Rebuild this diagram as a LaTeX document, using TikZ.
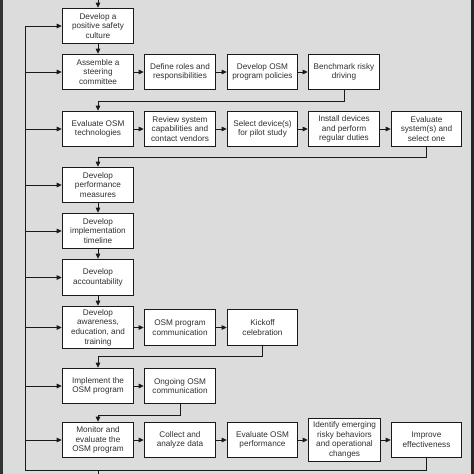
\documentclass[tikz,border=0pt]{standalone}
\usepackage{fontspec}
\setmainfont{Liberation Sans}
\usetikzlibrary{arrows.meta}
\definecolor{bgc}{HTML}{DCDCDC}
\definecolor{txtc}{HTML}{303030}
\definecolor{linec}{HTML}{1A1A1A}
\tikzset{
  box/.style={draw=linec, fill=white, line width=1.6pt, minimum width=71pt, minimum height=35pt,
    inner sep=1pt, align=center, text=txtc, font=\fontsize{8.2}{9.7}\selectfont},
  arr/.style={draw=linec, line width=0.9pt, -{Triangle[length=5pt,width=4.5pt]}},
  ln/.style={draw=linec, line width=0.9pt},
}
\begin{document}
\begin{tikzpicture}[x=1pt,y=-1pt]
\useasboundingbox (0,0) rectangle (474,474);
\fill[bgc] (0,0) rectangle (474,474);
\fill[black!80] (0,0) rectangle (2.5,474);
\fill[black!85] (470.5,0) rectangle (474,474);
\draw[black!15, line width=0.6pt] (466,0) -- (466,474);
% main column
\node[box] (safety) at (98,26) {Develop a\\positive safety\\culture};
\node[box] (assemble) at (98,72) {Assemble a\\steering\\committee};
\node[box] (evaltech) at (98,129) {Evaluate OSM\\technologies};
\node[box] (perf) at (98,185) {Develop\\performance\\measures};
\node[box] (timeline) at (98,231) {Develop\\implementation\\timeline};
\node[box, minimum height=36pt] (account) at (98,277.5) {Develop\\accountability};
\node[box, minimum height=42pt] (aware) at (98,327.5) {Develop\\awareness,\\education, and\\training};
\node[box] (implement) at (98,386) {Implement the\\OSM program};
\node[box] (monitor) at (98,440) {Monitor and\\evaluate the\\OSM program};
% row 1
\node[box] (roles) at (180,72) {Define roles and\\responsibilities};
\node[box, minimum width=70pt] (policies) at (262.5,72) {Develop OSM\\program policies};
\node[box] (bench) at (344,72) {Benchmark risky\\driving};
% row tech
\node[box] (review) at (180,129) {Review system\\capabilities and\\contact vendors};
\node[box, minimum width=70pt] (select) at (262.5,129) {Select device(s)\\for pilot study};
\node[box] (install) at (344,129) {Install devices\\and perform\\regular duties};
\node[box, minimum width=70pt] (evalsys) at (426.5,129) {Evaluate\\system(s) and\\select one};
% row awareness
\node[box, minimum height=36pt] (osmcomm) at (180,327.5) {OSM program\\communication};
\node[box, minimum width=70pt, minimum height=36pt] (kickoff) at (262.5,327.5) {Kickoff\\celebration};
% row implement
\node[box] (ongoing) at (180,386) {Ongoing OSM\\communication};
% row monitor
\node[box] (collect) at (180,440) {Collect and\\analyze data};
\node[box, minimum width=70pt] (evalperf) at (262.5,440) {Evaluate OSM\\performance};
\node[box, minimum width=72pt, minimum height=43pt] (identify) at (344.5,440) {Identify emerging\\risky behaviors\\and operational\\changes};
\node[box, minimum width=70pt] (improve) at (426.5,440) {Improve\\effectiveness};
% coordinates
\coordinate (top) at (98,0);
\coordinate (tl) at (25,26);
\coordinate (bl) at (25,470.5);
% top arrow
\draw[arr] (top) -- (safety.north);
% vertical main arrows
\draw[arr] (safety) -- (assemble);
\draw[arr] (perf) -- (timeline);
\draw[arr] (timeline) -- (account);
\draw[arr] (account) -- (aware);
% horizontal arrows
\draw[arr] (assemble) -- (roles);
\draw[arr] (roles) -- (policies);
\draw[arr] (policies) -- (bench);
\draw[arr] (evaltech) -- (review);
\draw[arr] (review) -- (select);
\draw[arr] (select) -- (install);
\draw[arr] (install) -- (evalsys);
\draw[arr] (aware.east |- osmcomm) -- (osmcomm);
\draw[arr] (osmcomm) -- (kickoff);
\draw[arr] (implement) -- (ongoing);
\draw[arr] (monitor) -- (collect);
\draw[arr] (collect) -- (evalperf);
\draw[arr] (evalperf) -- (identify);
\draw[arr] (identify) -- (improve);
% feedback connectors
\draw[arr] (bench.south) -- ++(0,11) -| (evaltech.north);
\draw[arr] (evalsys.south) -- ++(0,10) -| (perf.north);
\draw[arr] (kickoff.south) -- ++(0,10) -| (implement.north);
\draw[arr] (ongoing.south) -- ++(0,11) -| (monitor.north);
% big loop
\draw[arr] (improve.south) -- (improve.south |- bl) -- (bl) -- (tl) -- (safety.west);
\draw[ln] (monitor.south |- bl) -- ++(0,4);
\draw[arr] (tl |- assemble.west) -- (assemble.west);
\draw[arr] (tl |- evaltech.west) -- (evaltech.west);
\draw[arr] (tl |- perf.west) -- (perf.west);
\draw[arr] (tl |- timeline.west) -- (timeline.west);
\draw[arr] (tl |- account.west) -- (account.west);
\draw[arr] (tl |- aware.west) -- (aware.west);
\draw[arr] (tl |- implement.west) -- (implement.west);
\draw[arr] (tl |- monitor.west) -- (monitor.west);
\end{tikzpicture}
\end{document}
